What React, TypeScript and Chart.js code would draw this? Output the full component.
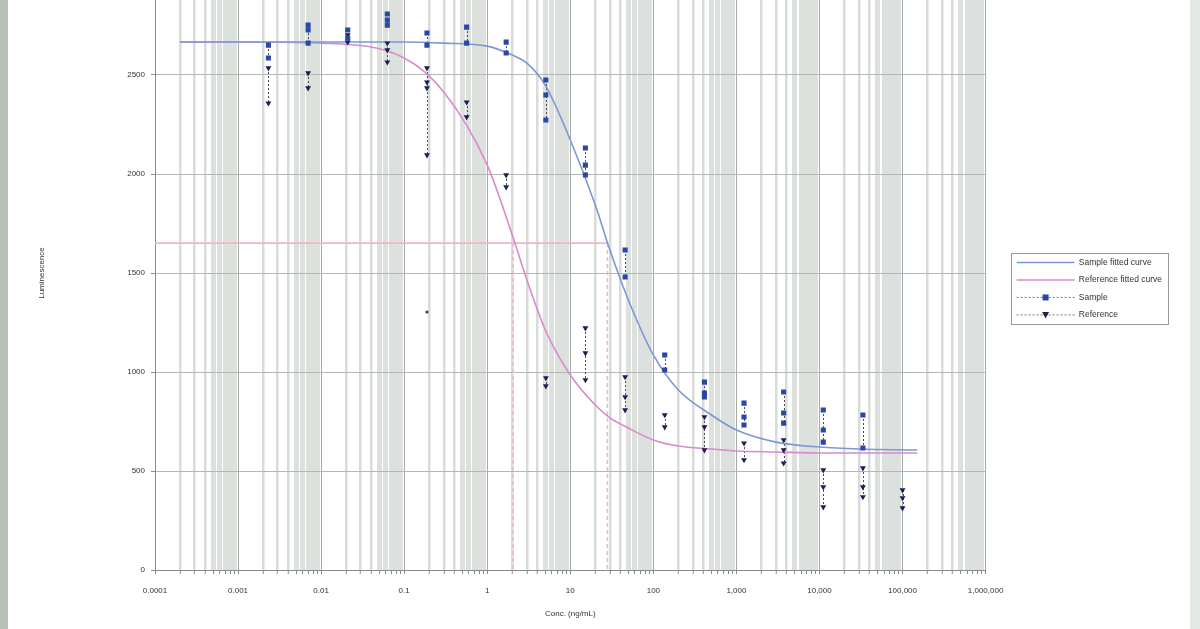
import { useEffect, useRef } from 'react';
import { Chart, registerables } from 'chart.js';

Chart.register(...registerables);

// 3-fold dilution series, highest first (same order as replicate rows below)
const concentrations = [100000, 33333, 11111, 3704, 1235, 412, 137, 45.7, 15.2, 5.08, 1.69, 0.565, 0.188, 0.0627, 0.0209, 0.00697, 0.00232];

const sampleReplicates = [
  [],
  [783, 616],
  [808, 707, 646],
  [899, 793, 742],
  [843, 773, 732],
  [949, 894, 874],
  [1086, 1010],
  [1616, 1480],
  [2131, 2045, 1995],
  [2475, 2399, 2273],
  [2666, 2611],
  [2742, 2661],
  [2712, 2651],
  [2808, 2778, 2752],
  [2727, 2687],
  [2752, 2727, 2661],
  [2651, 2586],
];

const referenceReplicates = [
  [404, 364, 313],
  [515, 419, 369],
  [505, 419, 318],
  [657, 606, 540],
  [641, 556],
  [773, 722, 606],
  [783, 722],
  [975, 874, 808],
  [1222, 1096, 960],
  [970, 929],
  [1995, 1934],
  [2363, 2288],
  [2535, 2464, 2434, 2096],
  [2661, 2626, 2565],
  [2702, 2666],
  [2510, 2434],
  [2535, 2358],
];

const excludedConc = [0.188];
const excludedValues = [1303];

// fitted curves
const curveConc = [0.0002, 0.001, 0.01, 0.1, 0.3, 1, 2, 3, 5, 10, 20, 30, 50, 100, 200, 500, 1000, 3000, 10000, 30000, 150000];
const sampleCurve = [2667, 2667, 2667, 2667, 2661, 2646, 2601, 2560, 2449, 2172, 1843, 1616, 1364, 1086, 909, 783, 707, 646, 621, 611, 606];
const referenceCurve = [2667, 2667, 2661, 2586, 2414, 2045, 1692, 1465, 1212, 985, 833, 768, 717, 657, 626, 611, 601, 596, 591, 591, 591];

const halfResponse = 1651;
const sampleEC50 = 28;
const referenceEC50 = 2.05;

const decadeValues = [0.0001, 0.001, 0.01, 0.1, 1, 10, 100, 1000, 10000, 100000, 1000000];
const decadeLabels = ['0.0001', '0.001', '0.01', '0.1', '1', '10', '100', '1,000', '10,000', '100,000', '1,000,000'];

const legendLabels = ['Sample fitted curve', 'Reference fitted curve', 'Sample', 'Reference'];
const xTitle = 'Conc. (ng/mL)';
const yTitle = 'Luminescence';

const sampleLineColor = '#7b98d6';
const referenceLineColor = '#d88acb';
const samplePointColor = '#2a47a3';
const referencePointColor = '#1b1f52';
const ec50Color = '#f2b3c4';

const LEGEND_BOX = 58;
const FONT = '"Liberation Sans", Arial, sans-serif';
Chart.defaults.font.family = FONT;
Chart.defaults.color = '#333';

const significand = (v: number) => {
  const m = v / Math.pow(10, Math.floor(Math.log10(v) + 1e-9));
  return Math.round(m * 2) / 2;
};

const errorBars = {
  id: 'errorBars',
  beforeDatasetsDraw(chart: any) {
    const { ctx, scales } = chart;
    ctx.save();
    ctx.setLineDash([2, 2]);
    ctx.strokeStyle = '#4a4a4a';
    ctx.lineWidth = 1;
    [sampleReplicates, referenceReplicates].forEach((set) => {
      set.forEach((vals, i) => {
        if (vals.length < 2) return;
        const px = Math.round(scales.x.getPixelForValue(concentrations[i])) + 0.5;
        ctx.beginPath();
        ctx.moveTo(px, scales.y.getPixelForValue(Math.max(...vals)));
        ctx.lineTo(px, scales.y.getPixelForValue(Math.min(...vals)));
        ctx.stroke();
      });
    });
    ctx.restore();
  },
};

const legendDecor = {
  id: 'legendDecor',
  afterDraw(chart: any) {
    const boxes = chart.legend?.legendHitBoxes;
    if (!boxes || !boxes.length) return;
    const { ctx } = chart;
    const left = Math.min(...boxes.map((b: any) => b.left)) - 6;
    const top = Math.min(...boxes.map((b: any) => b.top)) - 5;
    const right = Math.max(...boxes.map((b: any) => b.left + b.width)) + 6;
    const bottom = Math.max(...boxes.map((b: any) => b.top + b.height)) + 5;
    ctx.save();
    ctx.strokeStyle = '#9a9a9a';
    ctx.lineWidth = 1;
    ctx.strokeRect(Math.round(left) + 0.5, Math.round(top) + 0.5, Math.round(right - left), Math.round(bottom - top));
    boxes.forEach((b: any, i: number) => {
      const x0 = b.left;
      const x1 = b.left + LEGEND_BOX;
      const cy = b.top + b.height / 2;
      const cx = (x0 + x1) / 2;
      if (i < 2) {
        ctx.strokeStyle = i === 0 ? sampleLineColor : referenceLineColor;
        ctx.lineWidth = 1.5;
        ctx.beginPath();
        ctx.moveTo(x0, cy);
        ctx.lineTo(x1, cy);
        ctx.stroke();
      } else {
        ctx.strokeStyle = '#777';
        ctx.lineWidth = 1;
        ctx.setLineDash([2, 2]);
        ctx.beginPath();
        ctx.moveTo(x0, cy);
        ctx.lineTo(x1, cy);
        ctx.stroke();
        ctx.setLineDash([]);
        ctx.fillStyle = i === 2 ? samplePointColor : referencePointColor;
        ctx.beginPath();
        if (i === 2) {
          ctx.rect(cx - 3, cy - 3, 6, 6);
        } else {
          ctx.moveTo(cx - 3.5, cy - 3);
          ctx.lineTo(cx + 3.5, cy - 3);
          ctx.lineTo(cx, cy + 3.5);
          ctx.closePath();
        }
        ctx.fill();
      }
    });
    ctx.restore();
  },
};

export default function App() {
  const ref = useRef<HTMLCanvasElement>(null);

  useEffect(() => {
    document.body.style.margin = '0';
    if (ref.current == null) return () => {};

    const toPoints = (sets: number[][]) =>
      sets.flatMap((vals, i) => vals.map((v) => ({ x: concentrations[i], y: v })));
    const curve = (vals: number[]) => curveConc.map((c, i) => ({ x: c, y: vals[i] }));

    const chart = new Chart(ref.current, {
      type: 'scatter',
      data: {
        datasets: [
          {
            label: legendLabels[2],
            data: toPoints(sampleReplicates),
            pointStyle: 'rect',
            pointRadius: 3.6,
            backgroundColor: samplePointColor,
            borderColor: samplePointColor,
            borderWidth: 0,
          },
          {
            label: legendLabels[3],
            data: toPoints(referenceReplicates),
            pointStyle: 'triangle',
            rotation: 180,
            pointRadius: 3.4,
            backgroundColor: referencePointColor,
            borderColor: referencePointColor,
            borderWidth: 0,
          },
          {
            label: 'excluded',
            data: excludedConc.map((c, i) => ({ x: c, y: excludedValues[i] })),
            pointRadius: 1.6,
            backgroundColor: '#444',
            borderWidth: 0,
          },
          {
            type: 'line',
            label: legendLabels[0],
            data: curve(sampleCurve),
            borderColor: sampleLineColor,
            borderWidth: 1.6,
            pointRadius: 0,
            cubicInterpolationMode: 'monotone',
            showLine: true,
          },
          {
            type: 'line',
            label: legendLabels[1],
            data: curve(referenceCurve),
            borderColor: referenceLineColor,
            borderWidth: 1.6,
            pointRadius: 0,
            cubicInterpolationMode: 'monotone',
            showLine: true,
          },
          {
            type: 'line',
            label: 'half',
            data: [{ x: decadeValues[0], y: halfResponse }, { x: sampleEC50, y: halfResponse }],
            borderColor: ec50Color,
            borderWidth: 1.8,
            pointRadius: 0,
          },
          {
            type: 'line',
            label: 'ec50 ref',
            data: [{ x: referenceEC50, y: halfResponse }, { x: referenceEC50, y: 0 }],
            borderColor: ec50Color,
            borderWidth: 1.5,
            borderDash: [4, 3],
            pointRadius: 0,
          },
          {
            type: 'line',
            label: 'ec50 sample',
            data: [{ x: sampleEC50, y: halfResponse }, { x: sampleEC50, y: 0 }],
            borderColor: ec50Color,
            borderWidth: 1.5,
            borderDash: [4, 3],
            pointRadius: 0,
          },
        ],
      },
      options: {
        animation: false,
        responsive: true,
        maintainAspectRatio: false,
        layout: { padding: { top: 16, left: 33, right: 28, bottom: 0 } },
        plugins: {
          tooltip: { enabled: false },
          legend: {
            position: 'right',
            align: 'start',
            // empty title only pushes the legend rows down to where the reference has them
            title: { display: true, text: ' ', font: { size: 1 }, padding: { top: 0, bottom: 272 } },
            labels: {
              boxWidth: LEGEND_BOX,
              boxHeight: 8,
              padding: 9,
              font: { size: 8.5 },
              color: '#333',
              generateLabels: () =>
                legendLabels.map((text, i) => ({
                  text,
                  fillStyle: 'rgba(0,0,0,0)',
                  strokeStyle: 'rgba(0,0,0,0)',
                  lineWidth: 0,
                  hidden: false,
                  datasetIndex: i,
                })),
            },
          },
        },
        scales: {
          x: {
            type: 'logarithmic',
            min: decadeValues[0],
            max: decadeValues[decadeValues.length - 1],
            afterBuildTicks: (s: any) => {
              s.ticks = s.ticks.filter((t: any) => Number.isInteger(significand(t.value)) && significand(t.value) < 10);
            },
            afterFit: (s: any) => {
              s.height = 55;
            },
            title: { display: true, text: xTitle, font: { size: 8 }, color: '#333', padding: { top: 2, bottom: 6 } },
            ticks: {
              autoSkip: false,
              maxRotation: 0,
              padding: 12,
              font: { size: 8 },
              color: '#333',
              callback: (v: any) => {
                const idx = decadeValues.findIndex((d) => Math.abs(Math.log10(d) - Math.log10(Number(v))) < 1e-6);
                return idx >= 0 ? decadeLabels[idx] : '';
              },
            },
            grid: {
              color: (c: any) => {
                const s = c.tick ? significand(c.tick.value) : 1;
                return s === 1 ? '#a6aaa6' : s >= 5 ? '#dde1de' : '#d7dcd9';
              },
              lineWidth: (c: any) => {
                const s = c.tick ? significand(c.tick.value) : 1;
                return s === 1 ? 1 : s >= 5 ? 5 : 2.5;
              },
              tickLength: 4,
              tickColor: '#8a8a8a',
              tickWidth: 1,
            },
            border: { color: '#8a8a8a', width: 1 },
          },
          y: {
            min: 0,
            max: 3000,
            afterFit: (s: any) => {
              s.width = 122;
            },
            title: { display: true, text: yTitle, font: { size: 8 }, color: '#333', padding: 4 },
            ticks: { stepSize: 500, padding: 6, font: { size: 8 }, color: '#333', callback: (v: any) => String(v) },
            grid: { color: '#b3b8b4', lineWidth: 1, tickLength: 4, tickColor: '#8a8a8a' },
            border: { color: '#8a8a8a', width: 1 },
          },
          gap: {
            type: 'linear',
            position: 'right',
            display: true,
            grid: { display: false },
            ticks: { display: false },
            border: { display: false },
            afterFit: (s: any) => {
              s.width = 22;
            },
          },
        },
      },
      plugins: [errorBars, legendDecor],
    } as any);

    return () => {
      chart.destroy();
    };
  }, []);

  return (
    <div style={{ position: 'relative', width: 1200, height: 629, overflow: 'hidden', background: '#fff' }}>
      <div style={{ position: 'absolute', left: 0, top: 0, width: 8, height: 629, background: '#b7c3b8' }} />
      <div style={{ position: 'absolute', left: 1190, top: 0, width: 10, height: 629, background: '#e5e9e3' }} />
      <div style={{ position: 'absolute', left: 0, top: -40, width: 1200, height: 665 }}>
        <canvas ref={ref} />
      </div>
    </div>
  );
}
